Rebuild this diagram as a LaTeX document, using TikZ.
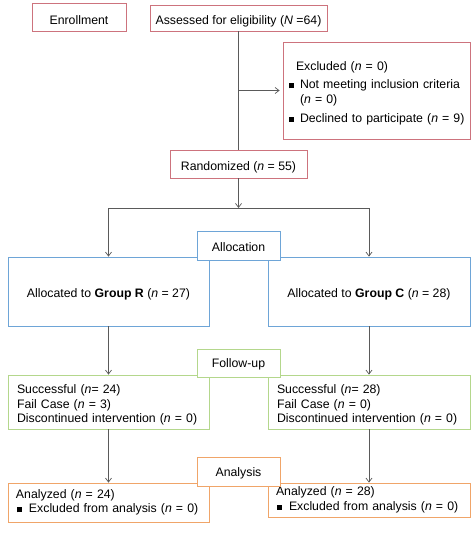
\documentclass[tikz,border=0pt]{standalone}
\usepackage{fontspec}
\setmainfont{Liberation Sans}
\usetikzlibrary{arrows.meta, positioning, calc}

\definecolor{boxred}{RGB}{205,115,125}
\definecolor{boxblue}{RGB}{110,165,215}
\definecolor{boxgreen}{RGB}{180,215,140}
\definecolor{boxorange}{RGB}{240,165,105}
\definecolor{linegray}{RGB}{90,90,90}

\newcommand{\sqbullet}{\rule[0.5pt]{5pt}{5pt}}

\begin{document}
\begin{tikzpicture}[
        x=1pt, y=-1pt,
        font=\fontsize{12.3}{14.5}\selectfont,
        % common box look
        box/.style={rectangle, draw, line width=0.8pt, inner sep=0pt, fill=white},
        % the strut pushes the text a little lower
        lowtext/.style={execute at begin node={\rule{0pt}{#1}}},
        redbox/.style={box, lowtext=15pt, draw=boxred},
        bluebox/.style={box, lowtext=15pt, draw=boxblue},
        greenbox/.style={box, lowtext=15pt, draw=boxgreen, align=left},
        orangebox/.style={box, draw=boxorange, align=left},
        labelbox/.style={box, lowtext=12pt, minimum width=83pt},
        arrow/.style={-{Straight Barb[length=4pt, width=6pt]}, draw=linegray, line width=0.7pt},
        line/.style={draw=linegray, line width=0.7pt}
    ]
    \useasboundingbox (0,0) rectangle (474,545);

    % Enrollment
    \node (enroll) [redbox, minimum width=94pt, minimum height=28pt] at (79,17) {Enrollment};
    \node (assess) [redbox, minimum width=177pt, minimum height=26pt] at (238.5,18)
        {Assessed for eligibility (\textit{N} =64)};
    \node (excl) [redbox, minimum width=187pt, minimum height=97pt, text width=175pt, align=left] at (376.5,90.5)
        {\hspace*{7pt}Excluded (\textit{n} = 0)\\[3.5pt]
         \sqbullet\hspace{6pt}Not meeting inclusion criteria\\
         \hspace*{11pt}(\textit{n} = 0)\\[4.5pt]
         \mbox{\sqbullet\hspace{6pt}Declined to participate (\textit{n} = 9)}};
    \node (random) [redbox, minimum width=137pt, minimum height=28pt] at (238.5,164)
        {Randomized (\textit{n} = 55)};

    % Allocation
    \node (groupR) [bluebox, minimum width=201pt, minimum height=69pt] at (108.5,291.5)
        {Allocated to \textbf{Group R} (\textit{n} = 27)};
    \node (groupC) [bluebox, minimum width=202pt, minimum height=69pt] at (369,291.5)
        {Allocated to \textbf{Group C} (\textit{n} = 28)};

    % Follow-up
    \node (followR) [greenbox, minimum width=201pt, minimum height=54pt, text width=183pt] at (108.5,402)
        {Successful (\textit{n}= 24)\\Fail Case (\textit{n} = 3)\\Discontinued intervention (\textit{n} = 0)};
    \node (followC) [greenbox, minimum width=202pt, minimum height=54pt, text width=184pt] at (369,402)
        {Successful (\textit{n}= 28)\\Fail Case (\textit{n} = 0)\\Discontinued intervention (\textit{n} = 0)};

    % Analysis
    \node (analR) [orangebox, minimum width=201pt, minimum height=39pt, text width=185pt] at (108.5,502.5)
        {Analyzed (\textit{n} = 24)\\\hspace*{1pt}\sqbullet\hspace{7pt}Excluded from analysis (\textit{n} = 0)};
    \node (analC) [orangebox, minimum width=202pt, minimum height=34pt, text width=186pt] at (369,500)
        {Analyzed (\textit{n} = 28)\\\hspace*{1pt}\sqbullet\hspace{7pt}Excluded from analysis (\textit{n} = 0)};

    % Connectors
    \coordinate (exclTap) at (assess.south |- excl.west);
    \coordinate (split) at (238.5,208);
    \coordinate (splitR) at (groupR.north |- split);
    \coordinate (splitC) at (groupC.north |- split);

    \draw [line] (assess) -- (random);
    \draw [arrow] (exclTap) -- ([xshift=-3pt]excl.west);
    \draw [arrow] (random) -- (split);
    \draw [line] (splitR) -- (splitC);
    \draw [arrow] (splitR) -- (groupR);
    \draw [arrow] (splitC) -- (groupC);
    \draw [arrow] (groupR) -- (followR);
    \draw [arrow] (groupC) -- (followC);
    \draw [arrow] (followR) -- (analR);
    \draw [arrow] (followC) -- (analC);

    % Stage labels
    \node (alloc) [labelbox, draw=boxblue, minimum height=29pt] at (238.5,245.5) {Allocation};
    \node (follow) [labelbox, draw=boxgreen, minimum height=28pt] at (238.5,363) {Follow-up};
    \node (analysis) [labelbox, draw=boxorange, minimum height=29pt] at (238.5,471.5) {Analysis};

\end{tikzpicture}
\end{document}
